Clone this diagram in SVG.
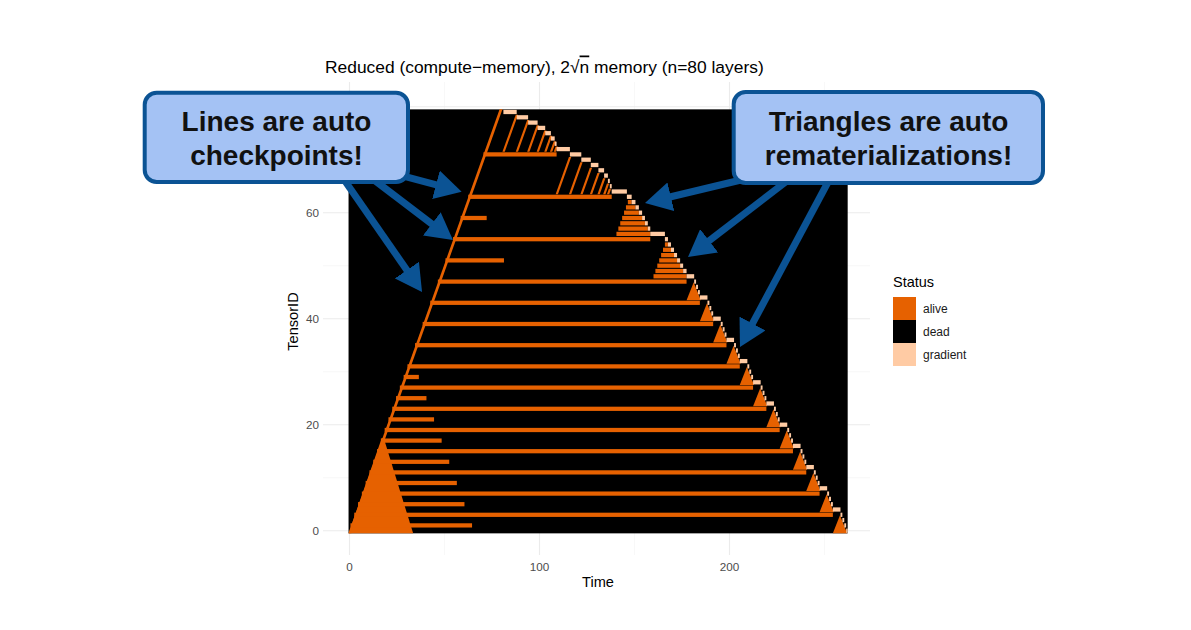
<svg xmlns="http://www.w3.org/2000/svg" width="1191" height="630" viewBox="0 0 1191 630">
<style>
text{font-family:"Liberation Sans",Arial,sans-serif}
.a{fill:#E66100}
.g{fill:#FFCBA4}
.gmaj{stroke:#EBEBEB;stroke-width:1.1}
.gmin{stroke:#F4F4F4;stroke-width:0.6}
.tick{font-size:11.7px;fill:#4D4D4D}
.axt{font-size:14.6px;fill:#000}
.leg{font-size:12px;fill:#1A1A1A}
.box{fill:#A4C2F4;stroke:#0B5394;stroke-width:4}
.btxt{font-size:28px;font-weight:bold;text-anchor:middle;fill:#111}
.arrow{stroke:#0B5394;stroke-width:7;fill:none;marker-end:url(#ah)}
</style>
<defs>
<marker id="ah" viewBox="0 0 10 10" refX="2" refY="5" markerWidth="3.8" markerHeight="4.2" preserveAspectRatio="none" orient="auto" markerUnits="strokeWidth">
<path d="M0,0 L10,5 L0,10 z" fill="#0B5394"/>
</marker>
</defs>
<rect width="1191" height="630" fill="#fff"/>

<g id="grid">
<line class="gmin" x1="444.5" y1="82" x2="444.5" y2="555"/>
<line class="gmin" x1="634.5" y1="82" x2="634.5" y2="555"/>
<line class="gmin" x1="824.5" y1="82" x2="824.5" y2="555"/>
<line class="gmin" x1="323" y1="477.7" x2="870" y2="477.7"/>
<line class="gmin" x1="323" y1="371.7" x2="870" y2="371.7"/>
<line class="gmin" x1="323" y1="265.7" x2="870" y2="265.7"/>
<line class="gmin" x1="323" y1="159.7" x2="870" y2="159.7"/>
<line class="gmaj" x1="349.5" y1="82" x2="349.5" y2="555"/>
<line class="gmaj" x1="539.5" y1="82" x2="539.5" y2="555"/>
<line class="gmaj" x1="729.5" y1="82" x2="729.5" y2="555"/>
<line class="gmaj" x1="323" y1="530.7" x2="870" y2="530.7"/>
<line class="gmaj" x1="323" y1="424.7" x2="870" y2="424.7"/>
<line class="gmaj" x1="323" y1="318.7" x2="870" y2="318.7"/>
<line class="gmaj" x1="323" y1="212.7" x2="870" y2="212.7"/>
<line class="gmaj" x1="323" y1="106.7" x2="870" y2="106.7"/>
</g>

<g id="plot" transform="translate(349.5,530.7) scale(1.9,-5.3)">
<rect fill="#000" x="-0.5" y="-0.5" width="262.7" height="80"/>
<g class="a">
<polygon points="-0.5,-0.5 1,-0.5 80.5,79.5 79,79.5"/>
<polygon points="-0.5,-0.5 33.5,-0.5 18,17.5 17,17.5"/>
<rect x="0.5" y="0.6" width="64" height="0.8"/>
<rect x="4.5" y="4.6" width="56" height="0.8"/>
<rect x="8.5" y="8.6" width="48" height="0.8"/>
<rect x="12.5" y="12.6" width="40" height="0.8"/>
<rect x="16.5" y="16.6" width="32" height="0.8"/>
<rect x="20.5" y="20.6" width="24" height="0.8"/>
<rect x="24.5" y="24.6" width="16" height="0.8"/>
<rect x="28.5" y="28.6" width="8" height="0.8"/>
<rect x="50.5" y="50.6" width="30.8" height="0.8"/>
<rect x="58.5" y="58.6" width="13.7" height="0.8"/>
<rect x="2.5" y="2.6" width="251.9" height="0.8"/>
<rect x="6.5" y="6.6" width="240.9" height="0.8"/>
<rect x="10.5" y="10.6" width="229.9" height="0.8"/>
<rect x="14.5" y="14.6" width="218.9" height="0.8"/>
<rect x="18.5" y="18.6" width="207.9" height="0.8"/>
<rect x="22.5" y="22.6" width="196.9" height="0.8"/>
<rect x="26.5" y="26.6" width="185.9" height="0.8"/>
<rect x="30.5" y="30.6" width="174.9" height="0.8"/>
<rect x="34.5" y="34.6" width="163.9" height="0.8"/>
<rect x="38.5" y="38.6" width="152.9" height="0.8"/>
<rect x="42.5" y="42.6" width="141.9" height="0.8"/>
<rect x="46.5" y="46.6" width="130.9" height="0.8"/>
<rect x="54.5" y="54.6" width="103.8" height="0.8"/>
<rect x="62.5" y="62.6" width="75.5" height="0.8"/>
<rect x="70.5" y="70.6" width="38.5" height="0.8"/>
<polygon points="80.5,71.5 81.7,71.5 88.7,78.5 87.5,78.5"/>
<polygon points="87.5,71.5 88.7,71.5 94.7,77.5 93.5,77.5"/>
<polygon points="93.5,71.5 94.7,71.5 99.7,76.5 98.5,76.5"/>
<polygon points="98.5,71.5 99.7,71.5 103.7,75.5 102.5,75.5"/>
<polygon points="102.5,71.5 103.7,71.5 106.7,74.5 105.5,74.5"/>
<polygon points="105.5,71.5 106.7,71.5 108.7,73.5 107.5,73.5"/>
<polygon points="107.5,71.5 108.7,71.5 109.7,72.5 108.5,72.5"/>
<polygon points="108.5,63.5 109.7,63.5 116.7,70.5 115.5,70.5"/>
<polygon points="115.5,63.5 116.7,63.5 122.7,69.5 121.5,69.5"/>
<polygon points="121.5,63.5 122.7,63.5 127.7,68.5 126.5,68.5"/>
<polygon points="126.5,63.5 127.7,63.5 131.7,67.5 130.5,67.5"/>
<polygon points="130.5,63.5 131.7,63.5 134.7,66.5 133.5,66.5"/>
<polygon points="133.5,63.5 134.7,63.5 136.7,65.5 135.5,65.5"/>
<polygon points="135.5,63.5 136.7,63.5 137.7,64.5 136.5,64.5"/>
<rect x="140.5" y="55.6" width="17.8" height="0.8"/>
<rect x="141.5" y="56.6" width="15.5" height="0.8"/>
<rect x="142.5" y="57.6" width="13" height="0.8"/>
<rect x="143.5" y="58.6" width="10.5" height="0.8"/>
<rect x="144.5" y="59.6" width="7.8" height="0.8"/>
<rect x="145.5" y="60.6" width="5" height="0.8"/>
<rect x="146.5" y="61.6" width="2" height="0.8"/>
<rect x="160" y="47.6" width="17.4" height="0.8"/>
<rect x="161" y="48.6" width="14.6" height="0.8"/>
<rect x="162" y="49.6" width="12" height="0.8"/>
<rect x="163" y="50.6" width="9.4" height="0.8"/>
<rect x="164" y="51.6" width="6.8" height="0.8"/>
<rect x="165" y="52.6" width="4.2" height="0.8"/>
<rect x="166" y="53.6" width="1.6" height="0.8"/>
<polygon points="254.4,-0.5 261.9,-0.5 258.15,2.9"/>
<polygon points="247.4,3.5 254.9,3.5 251.15,6.9"/>
<polygon points="240.4,7.5 247.9,7.5 244.15,10.9"/>
<polygon points="233.4,11.5 240.9,11.5 237.15,14.9"/>
<polygon points="226.4,15.5 233.9,15.5 230.15,18.9"/>
<polygon points="219.4,19.5 226.9,19.5 223.15,22.9"/>
<polygon points="212.4,23.5 219.9,23.5 216.15,26.9"/>
<polygon points="205.4,27.5 212.9,27.5 209.15,30.9"/>
<polygon points="198.4,31.5 205.9,31.5 202.15,34.9"/>
<polygon points="191.4,35.5 198.9,35.5 195.15,38.9"/>
<polygon points="184.4,39.5 191.9,39.5 188.15,42.9"/>
<polygon points="177.4,43.5 184.9,43.5 181.15,46.9"/>
</g>
<g class="g">
<rect x="81" y="78.6" width="7" height="0.8"/>
<rect x="88" y="77.6" width="6" height="0.8"/>
<rect x="94" y="76.6" width="5" height="0.8"/>
<rect x="99" y="75.6" width="4" height="0.8"/>
<rect x="103" y="74.6" width="3" height="0.8"/>
<rect x="106" y="73.6" width="2" height="0.8"/>
<rect x="108" y="72.6" width="1" height="0.8"/>
<rect x="109" y="71.6" width="7" height="0.8"/>
<rect x="116" y="70.6" width="6" height="0.8"/>
<rect x="122" y="69.6" width="5" height="0.8"/>
<rect x="127" y="68.6" width="4" height="0.8"/>
<rect x="131" y="67.6" width="3" height="0.8"/>
<rect x="134" y="66.6" width="2" height="0.8"/>
<rect x="136" y="65.6" width="1" height="0.8"/>
<rect x="137" y="64.6" width="1" height="0.8"/>
<rect x="138" y="63.6" width="8" height="0.8"/>
<rect x="146" y="62.6" width="2.5" height="0.8"/>
<rect x="148.5" y="61.6" width="2" height="0.8"/>
<rect x="150.5" y="60.6" width="1.8" height="0.8"/>
<rect x="152.3" y="59.6" width="1.7" height="0.8"/>
<rect x="154" y="58.6" width="1.5" height="0.8"/>
<rect x="155.5" y="57.6" width="1.5" height="0.8"/>
<rect x="157" y="56.6" width="1.3" height="0.8"/>
<rect x="158.3" y="55.6" width="7.7" height="0.8"/>
<rect x="166" y="54.6" width="1.6" height="0.8"/>
<rect x="167.6" y="53.6" width="1.6" height="0.8"/>
<rect x="169.2" y="52.6" width="1.6" height="0.8"/>
<rect x="170.8" y="51.6" width="1.6" height="0.8"/>
<rect x="172.4" y="50.6" width="1.6" height="0.8"/>
<rect x="174" y="49.6" width="1.6" height="0.8"/>
<rect x="175.6" y="48.6" width="1.8" height="0.8"/>
<rect x="177.4" y="47.6" width="4" height="0.8"/>
<rect x="181.4" y="46.6" width="1" height="0.8"/>
<rect x="182.4" y="45.6" width="1" height="0.8"/>
<rect x="183.4" y="44.6" width="1" height="0.8"/>
<rect x="184.4" y="43.6" width="4" height="0.8"/>
<rect x="188.4" y="42.6" width="1" height="0.8"/>
<rect x="189.4" y="41.6" width="1" height="0.8"/>
<rect x="190.4" y="40.6" width="1" height="0.8"/>
<rect x="191.4" y="39.6" width="4" height="0.8"/>
<rect x="195.4" y="38.6" width="1" height="0.8"/>
<rect x="196.4" y="37.6" width="1" height="0.8"/>
<rect x="197.4" y="36.6" width="1" height="0.8"/>
<rect x="198.4" y="35.6" width="4" height="0.8"/>
<rect x="202.4" y="34.6" width="1" height="0.8"/>
<rect x="203.4" y="33.6" width="1" height="0.8"/>
<rect x="204.4" y="32.6" width="1" height="0.8"/>
<rect x="205.4" y="31.6" width="4" height="0.8"/>
<rect x="209.4" y="30.6" width="1" height="0.8"/>
<rect x="210.4" y="29.6" width="1" height="0.8"/>
<rect x="211.4" y="28.6" width="1" height="0.8"/>
<rect x="212.4" y="27.6" width="4" height="0.8"/>
<rect x="216.4" y="26.6" width="1" height="0.8"/>
<rect x="217.4" y="25.6" width="1" height="0.8"/>
<rect x="218.4" y="24.6" width="1" height="0.8"/>
<rect x="219.4" y="23.6" width="4" height="0.8"/>
<rect x="223.4" y="22.6" width="1" height="0.8"/>
<rect x="224.4" y="21.6" width="1" height="0.8"/>
<rect x="225.4" y="20.6" width="1" height="0.8"/>
<rect x="226.4" y="19.6" width="4" height="0.8"/>
<rect x="230.4" y="18.6" width="1" height="0.8"/>
<rect x="231.4" y="17.6" width="1" height="0.8"/>
<rect x="232.4" y="16.6" width="1" height="0.8"/>
<rect x="233.4" y="15.6" width="4" height="0.8"/>
<rect x="237.4" y="14.6" width="1" height="0.8"/>
<rect x="238.4" y="13.6" width="1" height="0.8"/>
<rect x="239.4" y="12.6" width="1" height="0.8"/>
<rect x="240.4" y="11.6" width="4" height="0.8"/>
<rect x="244.4" y="10.6" width="1" height="0.8"/>
<rect x="245.4" y="9.6" width="1" height="0.8"/>
<rect x="246.4" y="8.6" width="1" height="0.8"/>
<rect x="247.4" y="7.6" width="4" height="0.8"/>
<rect x="251.4" y="6.6" width="1" height="0.8"/>
<rect x="252.4" y="5.6" width="1" height="0.8"/>
<rect x="253.4" y="4.6" width="1" height="0.8"/>
<rect x="254.4" y="3.6" width="4" height="0.8"/>
<rect x="258.4" y="2.6" width="1" height="0.8"/>
<rect x="259.4" y="1.6" width="1" height="0.8"/>
<rect x="260.4" y="0.6" width="1" height="0.8"/>
<rect x="261.4" y="-0.4" width="0.8" height="0.8"/>
</g>
</g>

<g id="axes">
<text class="tick" x="319" y="535" text-anchor="end">0</text>
<text class="tick" x="319" y="429" text-anchor="end">20</text>
<text class="tick" x="319" y="323" text-anchor="end">40</text>
<text class="tick" x="319" y="217" text-anchor="end">60</text>
<text class="tick" x="349.5" y="571" text-anchor="middle">0</text>
<text class="tick" x="539.5" y="571" text-anchor="middle">100</text>
<text class="tick" x="729.5" y="571" text-anchor="middle">200</text>
<text class="axt" x="598" y="587" text-anchor="middle">Time</text>
<text class="axt" transform="translate(298,321.5) rotate(-90)" text-anchor="middle">TensorID</text>
</g>

<g id="title">
<text x="325" y="72.5" font-size="17.4" fill="#000">Reduced (compute−memory), 2√<tspan text-decoration="overline">n</tspan> memory (n=80 layers)</text>
</g>

<g id="legend">
<text x="893" y="287" font-size="14.5" fill="#000">Status</text>
<rect x="893" y="297" width="23" height="23" class="a"/>
<rect x="893" y="320" width="23" height="23" fill="#000"/>
<rect x="893" y="343" width="23" height="23" class="g"/>
<text class="leg" x="923" y="313">alive</text>
<text class="leg" x="923" y="336">dead</text>
<text class="leg" x="923" y="359">gradient</text>
</g>

<g id="connectors">
<line class="arrow" x1="394.1" y1="173.6" x2="441.1" y2="186.2"/>
<line class="arrow" x1="365.4" y1="173.4" x2="436" y2="227.1"/>
<line class="arrow" x1="342.2" y1="177" x2="409.9" y2="274.5"/>
<line class="arrow" x1="747.2" y1="178.5" x2="665.7" y2="198"/>
<line class="arrow" x1="795" y1="174.8" x2="704.9" y2="244"/>
<line class="arrow" x1="831.8" y1="175" x2="750" y2="328.2"/>
</g>

<g id="callout-checkpoints">
<rect class="box" x="144.7" y="92.7" width="263.3" height="89.3" rx="12"/>
<text class="btxt" x="276.5" y="131">Lines are auto</text>
<text class="btxt" x="276.5" y="165">checkpoints!</text>
</g>

<g id="callout-rematerializations">
<rect class="box" x="733.7" y="92" width="309.3" height="91" rx="12"/>
<text class="btxt" x="888.5" y="131">Triangles are auto</text>
<text class="btxt" x="888.5" y="165">rematerializations!</text>
</g>
</svg>
